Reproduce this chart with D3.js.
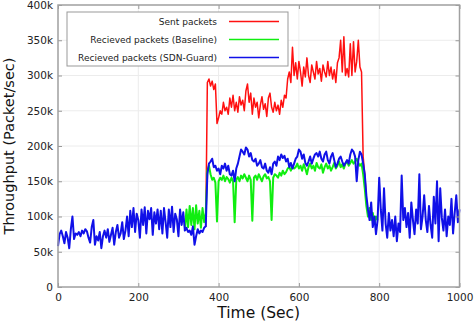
<!DOCTYPE html>
<html>
<head>
<meta charset="utf-8">
<script src="https://cdn.jsdelivr.net/npm/d3@7"></script>
<style>
  html, body { margin: 0; padding: 0; background: #fff; }
  svg { display: block; font-family: "DejaVu Sans", sans-serif; }
</style>
</head>
<body>
<svg id="chart" width="474" height="323"></svg>
<script>
// ---- data (values in thousands of packets/sec) ----
const STEP = 4; // seconds between samples

const blueStart = 0;
const blueValues = [
  58, 75, 80, 72, 62, 78, 70, 55, 82, 100,
  68, 76, 74, 78, 72, 80, 76, 82, 79, 70,
  63, 85, 95, 60, 72, 66, 78, 55, 72, 80,
  70, 82, 64, 74, 84, 60, 78, 88, 70, 76,
  92, 68, 80, 100, 72, 108, 85, 112, 78, 104,
  95, 70, 110, 88, 113, 76, 108, 96, 112, 74,
  106, 90, 110, 82, 108, 76, 112, 92, 70, 110,
  85, 114, 78, 104, 96, 72, 110, 88, 106, 80,
  84, 78, 80, 74, 86, 60, 72, 82, 76, 80,
  78, 84, 86, 160, 175, 178, 182, 170, 172, 165,
  168, 160, 172, 168, 175, 165, 172, 160, 158, 165,
  150, 168, 175, 185, 195, 192, 188, 198, 195, 185,
  190, 180, 178, 182, 172, 175, 180, 170, 168, 175,
  165, 162, 170, 160, 175, 178, 172, 185, 180, 188,
  183, 186, 178, 182, 170, 176, 168, 175, 182, 185,
  195, 192, 182, 188, 176, 172, 178, 185, 175, 182,
  188, 190, 185, 192, 182, 178, 188, 192, 180, 175,
  185, 190, 180, 170, 175, 182, 185, 178, 172, 176,
  180, 175, 188, 195, 192, 185, 150, 180, 192, 188,
  175, 160, 130, 110, 95, 120, 85, 100, 75, 95,
  155, 110, 80, 140, 90, 70, 105, 80, 95, 72,
  100, 65, 90, 78, 158, 95, 112, 85, 105, 70,
  120, 95, 75, 110, 90, 160, 82, 100, 130, 95,
  78, 115, 88, 70, 128, 90, 150, 65, 140, 98,
  80, 110, 72, 100, 88, 125, 76, 105, 130, 92,
  110
];

const greenStart = 316;
const greenValues = [
  80, 110, 85, 115, 88, 112, 82, 116, 90, 108,
  84, 112, 92, 105, 165, 172, 160, 152, 155, 148,
  93, 150, 155, 152, 158, 150, 156, 153, 148, 155,
  150, 92, 152, 156, 150, 158, 154, 160, 155, 150,
  158, 152, 94, 155, 158, 152, 160, 155, 150, 157,
  160, 154, 156, 150, 95, 155, 160, 158, 155, 162,
  158, 165, 160, 163, 168, 170, 165, 172, 168, 170,
  175, 168, 172, 165, 174, 168, 160, 170, 175, 168,
  172, 165, 176, 170, 168, 174, 162, 170, 175, 168,
  172, 165, 170, 176, 168, 172, 178, 170, 174, 168,
  175, 178, 172, 176, 180, 175, 178, 182, 176, 172,
  175, 160, 140, 115, 100, 112, 95, 105, 90, 100,
  95
];

const redStart = 368;
const redValues = [
  85, 290, 295, 285, 292, 280, 288, 232, 240, 250,
  245, 262, 250, 255, 245, 268, 255, 272, 250, 262,
  248, 270, 258, 265, 250, 278, 288, 262, 275, 245,
  268, 255, 262, 240, 258, 270, 252, 260, 242, 268,
  275, 255, 248, 262, 250, 258, 245, 265, 255, 272,
  268, 295, 305, 290, 340, 300, 318, 295, 320, 305,
  285, 312, 298, 325, 300, 290, 315, 305, 295, 320,
  302, 310, 292, 315, 305, 298, 320, 300, 312, 295,
  308, 290, 318, 325, 350, 305, 355, 300, 310, 298,
  345, 300, 348, 305, 320, 350, 312, 305, 185, 160,
  130
];

const seriesNames = ["Sent packets", "Recieved packets (Baseline)", "Recieved packets (SDN-Guard)"];
const seriesColors = ["#ff1010", "#10ee10", "#1010e8"];

const xTicks = [0, 200, 400, 600, 800, 1000];
const yTicks = [0, 50, 100, 150, 200, 250, 300, 350, 400];
const xTitle = "Time (Sec)";
const yTitle = "Throughput (Packet/sec)";

// ---- layout ----
const svg = d3.select("#chart");
const mL = 58, mR = 459.5, mT = 5, mB = 287;

const x = d3.scaleLinear().domain([0, 1000]).range([mL, mR]);
const y = d3.scaleLinear().domain([0, 400]).range([mB, mT]);

function toPoints(start, vals) {
  return vals.map((v, i) => ({ t: start + i * STEP, v }));
}

// grid
const grid = svg.append("g");
grid.selectAll("line.gx").data(xTicks.slice(1, -1)).join("line")
  .attr("x1", d => x(d)).attr("x2", d => x(d))
  .attr("y1", mT).attr("y2", mB)
  .attr("stroke", "#ececec").attr("stroke-width", 1);
grid.selectAll("line.gy").data(yTicks.slice(1, -1)).join("line")
  .attr("y1", d => y(d)).attr("y2", d => y(d))
  .attr("x1", mL).attr("x2", mR)
  .attr("stroke", "#ececec").attr("stroke-width", 1);

// lines
const line = d3.line().x(d => x(d.t)).y(d => y(d.v));
const plots = [
  { pts: toPoints(redStart, redValues), color: seriesColors[0], w: 1.5 },
  { pts: toPoints(greenStart, greenValues), color: seriesColors[1], w: 2 },
  { pts: toPoints(blueStart, blueValues), color: seriesColors[2], w: 2 }
];
svg.append("g").selectAll("path").data(plots).join("path")
  .attr("d", d => line(d.pts))
  .attr("fill", "none")
  .attr("stroke", d => d.color)
  .attr("stroke-width", d => d.w)
  .attr("stroke-linejoin", "round");

// axes
const tickFmt = d => d === 0 ? "0" : d + "k";
const axisStyle = g => {
  g.select(".domain").remove();
  g.selectAll(".tick line").attr("stroke", "#999");
  g.selectAll(".tick text").attr("fill", "#222").style("font-size", "10.5px")
    .style("font-family", "DejaVu Sans, sans-serif");
};
svg.append("g").attr("transform", `translate(0,${mB})`)
  .call(d3.axisBottom(x).tickValues(xTicks).tickSize(-4).tickPadding(7).tickFormat(d3.format("d")))
  .call(axisStyle);
svg.append("g").attr("transform", `translate(${mL},0)`)
  .call(d3.axisLeft(y).tickValues(yTicks).tickSize(-4).tickPadding(5).tickFormat(tickFmt))
  .call(axisStyle);
svg.append("g").attr("transform", `translate(0,${mT})`)
  .call(d3.axisTop(x).tickValues(xTicks).tickSize(-4).tickFormat(""))
  .call(axisStyle);
svg.append("g").attr("transform", `translate(${mR},0)`)
  .call(d3.axisRight(y).tickValues(yTicks).tickSize(-4).tickFormat(""))
  .call(axisStyle);

// frame
svg.append("rect").attr("x", mL).attr("y", mT)
  .attr("width", mR - mL).attr("height", mB - mT)
  .attr("fill", "none").attr("stroke", "#a0a0a0").attr("stroke-width", 1.5);

// titles
svg.append("text").attr("x", (mL + mR) / 2).attr("y", 318)
  .attr("text-anchor", "middle").style("font-size", "15.5px").attr("fill", "#111")
  .text(xTitle);
svg.append("text").attr("transform", `translate(14,${(mT + mB) / 2}) rotate(-90)`)
  .attr("text-anchor", "middle").style("font-size", "14.5px").attr("fill", "#111")
  .text(yTitle);

// legend
const lg = svg.append("g");
lg.append("rect").attr("x", 67).attr("y", 12).attr("width", 221).attr("height", 54)
  .attr("fill", "#fff").attr("stroke", "#999").attr("stroke-width", 1);
const rowY = [21.5, 39.5, 57.5];
seriesNames.forEach((name, i) => {
  lg.append("text").attr("x", 217).attr("y", rowY[i]).attr("dy", "0.35em")
    .attr("text-anchor", "end").style("font-size", "9px").attr("fill", "#222")
    .text(name);
  lg.append("line").attr("x1", 229).attr("x2", 279).attr("y1", rowY[i]).attr("y2", rowY[i])
    .attr("stroke", seriesColors[i]).attr("stroke-width", 1.3);
});
</script>
</body>
</html>
